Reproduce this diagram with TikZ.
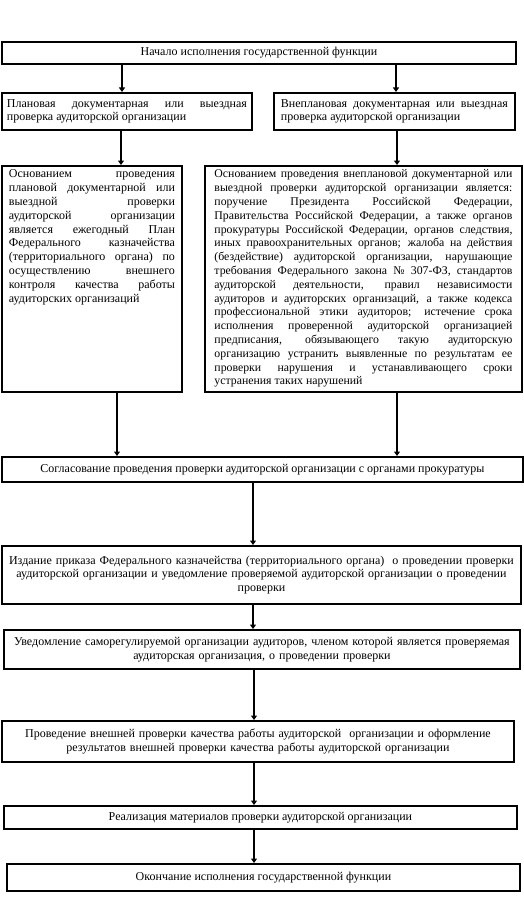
\documentclass[tikz,border=0pt]{standalone}
\usepackage{fontspec}
\setmainfont{Liberation Serif}
\usetikzlibrary{arrows.meta}
\newcommand\jline[1]{\hbox to\hsize{#1}}
\newcommand\lline[1]{\hbox to\hsize{#1\hfil}}
\begin{document}
\begin{tikzpicture}[x=1pt,y=1pt,
  box/.style={draw, line width=1.9pt, inner xsep=7pt, inner ysep=0pt, anchor=north west,
    font=\fontsize{12}{13.8}\selectfont},
  cbox/.style={box, align=center},
  tbox/.style={box, text height=12pt, text depth=214pt},
  arr/.style={line width=1.9pt, -{Triangle[length=4.5pt,width=6pt]}}]
\fill[white] (0,0) rectangle (524,-915);
\useasboundingbox (0,0) rectangle (524,-915);

\node[cbox, minimum width=514pt, minimum height=22pt] (b1) at (1,-41)
  {Начало исполнения государственной функции};

\node[box, inner xsep=5pt, minimum height=37pt] (b2l) at (1,-92)
  {\parbox{240pt}{\jline{Плановая документарная или выездная}\lline{проверка аудиторской организации}}};
\node[box, minimum height=37pt] (b2r) at (273,-92)
  {\parbox{227pt}{\jline{Внеплановая документарная или выездная}\lline{проверка аудиторской организации}}};

\node[tbox] (b3l) at (1,-165)
  {\parbox[t]{166pt}{\jline{Основанием проведения}%
   \jline{плановой документарной или}%
   \jline{выездной проверки}%
   \jline{аудиторской организации}%
   \jline{является ежегодный План}%
   \jline{Федерального казначейства}%
   \jline{(территориального органа) по}%
   \jline{осуществлению внешнего}%
   \jline{контроля качества работы}%
   \lline{аудиторских организаций}}};

\node[tbox, inner xsep=9.5pt, font=\fontsize{11.8}{13.8}\selectfont] (b3r) at (204,-165)
  {\parbox[t]{298pt}{\jline{Основанием проведения внеплановой документарной или}%
   \jline{выездной проверки аудиторской организации является:}%
   \jline{поручение Президента Российской Федерации,}%
   \jline{Правительства Российской Федерации, а также органов}%
   \jline{прокуратуры Российской Федерации, органов следствия,}%
   \jline{иных правоохранительных органов; жалоба на действия}%
   \jline{(бездействие) аудиторской организации, нарушающие}%
   \jline{требования Федерального закона № 307-ФЗ, стандартов}%
   \jline{аудиторской деятельности, правил независимости}%
   \jline{аудиторов и аудиторских организаций, а также кодекса}%
   \jline{профессиональной этики аудиторов; истечение срока}%
   \jline{исполнения проверенной аудиторской организацией}%
   \jline{предписания, обязывающего такую аудиторскую}%
   \jline{организацию устранить выявленные по результатам ее}%
   \jline{проверки нарушения и устанавливающего сроки}%
   \lline{устранения таких нарушений}}};

\node[cbox, minimum width=521pt, minimum height=25pt] (b4) at (1,-456)
  {Согласование проведения проверки аудиторской организации с органами прокуратуры};

\node[cbox, text width=505pt, minimum height=58pt] (b5) at (1,-545)
  {Издание приказа Федерального казначейства (территориального органа) \ о проведении проверки\\
   аудиторской организации и уведомление проверяемой аудиторской организации о проведении\\
   проверки};

\node[cbox, text width=502pt, minimum height=39pt] (b6) at (3,-629)
  {Уведомление саморегулируемой организации аудиторов, членом которой является проверяемая\\
   аудиторская организация, о проведении проверки};

\node[cbox, text width=498pt, minimum height=41pt] (b7) at (1,-720)
  {Проведение внешней проверки качества работы аудиторской \ организации и оформление\\
   результатов внешней проверки качества работы аудиторской организации};

\node[cbox, minimum width=513pt, minimum height=23pt] (b8) at (3,-805)
  {Реализация материалов проверки аудиторской организации};

\node[cbox, minimum width=513pt, minimum height=27pt] (b9) at (6,-863)
  {Окончание исполнения государственной функции};

\coordinate (xa) at (122,0);
\coordinate (xb) at (396,0);
\coordinate (xc) at (121,0);
\coordinate (xd) at (397,0);
\coordinate (xe) at (117,0);
\coordinate (xg) at (253,0);
\coordinate (xh) at (254,0);

\draw[arr] (b1.south -| xa) -- (b2l.north -| xa);
\draw[arr] (b1.south -| xb) -- (b2r.north -| xb);
\draw[arr] (b2l.south -| xc) -- (b3l.north -| xc);
\draw[arr] (b2r.south -| xd) -- (b3r.north -| xd);
\draw[arr] (b3l.south -| xe) -- (b4.north -| xe);
\draw[arr] (b3r.south -| xd) -- (b4.north -| xd);
\draw[arr] (b4.south -| xg) -- (b5.north -| xg);
\draw[arr] (b5.south -| xg) -- (b6.north -| xg);
\draw[arr] (b6.south -| xh) -- (b7.north -| xh);
\draw[arr] (b7.south -| xh) -- (b8.north -| xh);
\draw[arr] (b8.south -| xh) -- (b9.north -| xh);
\end{tikzpicture}
\end{document}
